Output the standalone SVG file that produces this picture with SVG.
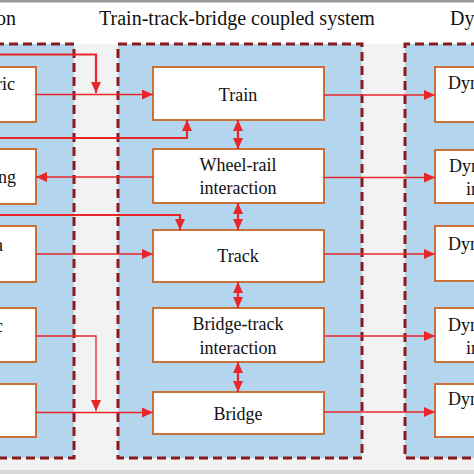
<svg xmlns="http://www.w3.org/2000/svg" width="474" height="474" viewBox="0 0 474 474">
<style>
.panel{fill:#b3d6ee}
.pb{fill:none;stroke:#8b1a1f;stroke-width:3;stroke-dasharray:9 5}
.box{fill:#fff;stroke:#c8723a;stroke-width:2}
.t{font-family:"Liberation Serif","DejaVu Serif",serif;font-size:18px;fill:#111}
.title{font-family:"Liberation Serif","DejaVu Serif",serif;font-size:20px;fill:#111}
.thin{fill:none;stroke:#e8262a;stroke-width:1.3}
.thick{fill:none;stroke:#e8262a;stroke-width:2.2}
</style>
<defs>
<marker id="ah" markerUnits="userSpaceOnUse" markerWidth="12" markerHeight="10" refX="11" refY="5" orient="auto">
<path d="M0,0 L11,5 L0,10 Z" fill="#e8262a"/>
</marker>
<marker id="ahs" markerUnits="userSpaceOnUse" markerWidth="12" markerHeight="10" refX="11" refY="5" orient="auto-start-reverse">
<path d="M0,0 L11,5 L0,10 Z" fill="#e8262a"/>
</marker>
</defs>
<rect x="0" y="0" width="474" height="474" fill="#f2f2f2"/>
<rect x="0" y="0" width="474" height="44" fill="#ffffff"/>
<rect x="0" y="0" width="474" height="2.5" fill="#9c9c9c"/>
<rect x="0" y="470" width="474" height="4" fill="#d8d8d8"/>

<g id="panels">
<rect class="panel" x="-5" y="44" width="79" height="414"/>
<path class="pb" d="M-5,44 H74 V458 H-5"/>
<rect class="panel" x="118" y="44" width="244" height="414"/>
<rect class="pb" x="118" y="44" width="244" height="414"/>
<rect class="panel" x="405" y="44" width="80" height="414"/>
<path class="pb" d="M480,44 H405 V458 H480"/>
</g>

<g id="titles">
<text class="title" x="16" y="25" text-anchor="end">on</text>
<text class="title" x="237" y="25" text-anchor="middle">Train-track-bridge coupled system</text>
<text class="title" x="450" y="25">Dy</text>
</g>

<g id="left-boxes">
<g id="L1"><rect class="box" x="-10" y="67" width="46" height="55"/><text class="t" x="15" y="90" text-anchor="end">ric</text></g>
<g id="L2"><rect class="box" x="-10" y="149" width="46" height="55"/><text class="t" x="16" y="183" text-anchor="end">ng</text></g>
<g id="L3"><rect class="box" x="-10" y="226" width="46" height="56"/><text class="t" x="3" y="251" text-anchor="end">a</text></g>
<g id="L4"><rect class="box" x="-10" y="308" width="46" height="54"/><text class="t" x="3" y="332" text-anchor="end">c</text></g>
<g id="L5"><rect class="box" x="-10" y="384" width="46" height="53"/></g>
</g>

<g id="middle-boxes">
<g id="train"><rect class="box" x="153" y="67" width="171" height="53"/><text class="t" x="238" y="101" text-anchor="middle">Train</text></g>
<g id="wheelrail"><rect class="box" x="153" y="149" width="171" height="54"/><text class="t" x="238" y="171" text-anchor="middle">Wheel-rail</text><text class="t" x="238" y="194" text-anchor="middle">interaction</text></g>
<g id="track"><rect class="box" x="153" y="230" width="171" height="52"/><text class="t" x="238" y="262" text-anchor="middle">Track</text></g>
<g id="bridgetrack"><rect class="box" x="153" y="308" width="171" height="54"/><text class="t" x="238" y="330" text-anchor="middle">Bridge-track</text><text class="t" x="238" y="354" text-anchor="middle">interaction</text></g>
<g id="bridge"><rect class="box" x="153" y="392" width="171" height="42"/><text class="t" x="238" y="420" text-anchor="middle">Bridge</text></g>
</g>

<g id="right-boxes">
<g id="R1"><rect class="box" x="435" y="67" width="50" height="55"/><text class="t" x="448" y="89">Dyn</text></g>
<g id="R2"><rect class="box" x="435" y="150" width="50" height="53"/><text class="t" x="449" y="172">Dyn</text><text class="t" x="466" y="195">in</text></g>
<g id="R3"><rect class="box" x="435" y="226" width="50" height="55"/><text class="t" x="448" y="250">Dyn</text></g>
<g id="R4"><rect class="box" x="435" y="308" width="50" height="54"/><text class="t" x="448" y="331">Dyn</text><text class="t" x="466" y="354">in</text></g>
<g id="R5"><rect class="box" x="435" y="384" width="50" height="53"/><text class="t" x="448" y="405">Dyn</text></g>
</g>

<g id="connectors">
<path class="thin" d="M36,94.5 H153" marker-end="url(#ah)"/>
<path class="thick" d="M0,54.5 H96 V93" marker-end="url(#ah)"/>
<path class="thick" d="M0,138 H187 V120" marker-end="url(#ah)"/>
<path class="thin" d="M153,177 H36" marker-end="url(#ah)"/>
<path class="thick" d="M0,215 H180 V230" marker-end="url(#ah)"/>
<path class="thin" d="M36,254 H153" marker-end="url(#ah)"/>
<path class="thin" d="M36,336 H96 V411" marker-end="url(#ah)"/>
<path class="thin" d="M36,412.5 H153" marker-end="url(#ah)"/>
<path class="thin" d="M324,95 H435" marker-end="url(#ah)"/>
<path class="thin" d="M324,177.5 H435" marker-end="url(#ah)"/>
<path class="thin" d="M324,254 H435" marker-end="url(#ah)"/>
<path class="thin" d="M324,336 H435" marker-end="url(#ah)"/>
<path class="thin" d="M324,412 H435" marker-end="url(#ah)"/>
<path class="thick" d="M238,120 V149" marker-start="url(#ahs)" marker-end="url(#ah)"/>
<path class="thick" d="M238,203 V230" marker-start="url(#ahs)" marker-end="url(#ah)"/>
<path class="thick" d="M238,282 V308" marker-start="url(#ahs)" marker-end="url(#ah)"/>
<path class="thick" d="M238,362 V392" marker-start="url(#ahs)" marker-end="url(#ah)"/>
</g>
</svg>
